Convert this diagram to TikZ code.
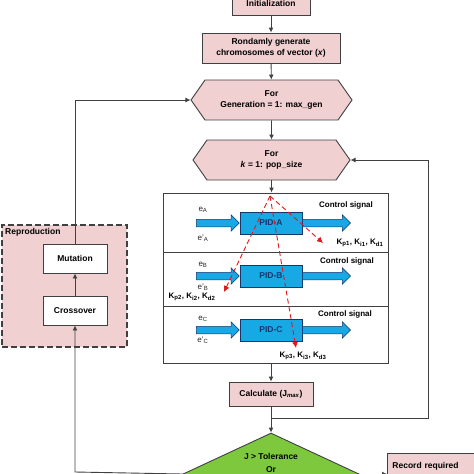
\documentclass[tikz,border=0pt]{standalone}
\usepackage{fontspec}
\setmainfont{Liberation Sans}
\usetikzlibrary{shapes.symbols,shapes.geometric,shapes.arrows,arrows.meta}
\definecolor{boxpink}{RGB}{240,208,208}
\definecolor{boxedge}{RGB}{64,64,64}
\definecolor{pidblue}{RGB}{24,168,228}
\definecolor{pidedge}{RGB}{20,55,110}
\definecolor{condgreen}{RGB}{125,200,60}
\definecolor{gainred}{RGB}{225,25,25}
\tikzset{
  flow/.style={
    line width=0.9pt,
    draw=boxedge,
    line join=miter
  },
  flow-arrow/.style={
    flow,
    -{Latex[length=5pt,width=5pt]}
  },
  step-box/.style={
    flow,
    fill=boxpink,
    font=\fontsize{8.5}{11}\selectfont\bfseries,
    align=center,
    inner sep=0pt
  },
  loop-hex/.style={step-box, shape=signal, signal to=west and east, signal pointer angle=110, minimum height=40pt},
  white-box/.style={step-box, fill=white, minimum width=64pt, minimum height=29pt},
  panel/.style={draw=boxedge, line width=0.9pt, minimum width=225pt, inner sep=0pt},
  pid-box/.style={draw=pidedge, line width=0.6pt, fill=pidblue, text=pidedge, font=\fontsize{8.5}{10}\selectfont\bfseries, minimum width=62pt, minimum height=22pt, inner sep=0pt},
  fat-arrow/.style={single arrow, draw=pidedge, line width=0.5pt, fill=pidblue, inner sep=3.5pt, single arrow head extend=4.5pt, single arrow head indent=0pt},
  sig-text/.style={font=\fontsize{8}{9}\selectfont\bfseries, inner sep=0pt},
  err-text/.style={font=\fontsize{8}{9}\selectfont, text=black!85, inner sep=0pt},
  gain-text/.style={font=\fontsize{8}{9}\selectfont\bfseries, inner sep=0pt},
  gain-line/.style={draw=gainred, line width=0.9pt, dash pattern=on 5pt off 3pt, -{Latex[length=6pt,width=6pt]}}
}

\begin{document}
\begin{tikzpicture}[x=1pt,y=-1pt]
  \useasboundingbox (0,0) rectangle (474,474);
  % Main column
  \node[step-box, minimum width=78pt, minimum height=24pt] (init) at (271,3) {Initialization};
  \node[step-box, minimum width=138pt, minimum height=30pt] (chrom) at (271,48) {Rondamly generate\\chromosomes of vector (\textit{x})};
  \node[loop-hex, minimum width=161pt] (gen) at (271.5,100) {For\\Generation = 1: max\_gen};
  \node[loop-hex, minimum width=157pt] (pop) at (271.5,160) {For\\\textit{k} = 1: pop\_size};
  \draw[flow-arrow] (init) -- (chrom);
  \draw[flow-arrow] (chrom) -- (gen);
  \draw[flow-arrow] (gen) -- (pop);
  % PID panels
  \node[panel, minimum height=59pt] (panelA) at (275.5,222.5) {};
  \node[panel, minimum height=54pt] (panelB) at (275.5,279) {};
  \node[panel, minimum height=57pt] (panelC) at (275.5,334.5) {};
  \draw[flow-arrow] (pop.south) -- (pop.south |- panelA.north);
  \node[pid-box] (pidA) at (271,223) {PID-A};
  \node[pid-box] (pidB) at (271,276) {PID-B};
  \node[pid-box] (pidC) at (271,330) {PID-C};
  \node[fat-arrow, minimum height=43pt, anchor=east] (inA) at (pidA.west) {};
  \node[fat-arrow, minimum height=43pt, anchor=east] (inB) at (pidB.west) {};
  \node[fat-arrow, minimum height=43pt, anchor=east] (inC) at (pidC.west) {};
  \node[fat-arrow, minimum height=48pt, anchor=west] (outA) at (pidA.east) {};
  \node[fat-arrow, minimum height=48pt, anchor=west] (outB) at (pidB.east) {};
  \node[fat-arrow, minimum height=48pt, anchor=west] (outC) at (pidC.east) {};
  \node[err-text] (eA) at (203,210) {e\textsubscript{A}};
  \node[err-text] (edA) at (203,238) {e'\textsubscript{A}};
  \node[err-text] (eB) at (203,265) {e\textsubscript{B}};
  \node[err-text] (edB) at (203,287) {e'\textsubscript{B}};
  \node[err-text] (eC) at (203,319) {e\textsubscript{C}};
  \node[err-text] (edC) at (203,340) {e'\textsubscript{C}};
  \node[sig-text] (sigA) at (346,205) {Control signal};
  \node[sig-text] (sigB) at (347,261) {Control signal};
  \node[sig-text] (sigC) at (345,314) {Control signal};
  \node[gain-text] (gainA) at (360,243) {K\textsubscript{p1}, K\textsubscript{i1}, K\textsubscript{d1}};
  \node[gain-text] (gainB) at (192,297) {K\textsubscript{p2}, K\textsubscript{i2}, K\textsubscript{d2}};
  \node[gain-text] (gainC) at (303,356) {K\textsubscript{p3}, K\textsubscript{i3}, K\textsubscript{d3}};
  % Gains sent to each controller
  \coordinate (apex) at (270,196);
  \coordinate (tipA) at (323,243);
  \coordinate (tipB) at (224,292);
  \coordinate (tipC) at (296,348);
  \draw[gain-line] (apex) -- (tipA);
  \draw[gain-line] (apex) -- (tipB);
  \draw[gain-line] (apex) -- (tipC);
  % Fitness and stopping test
  \node[step-box, minimum width=84pt, minimum height=24pt] (calc) at (271,394) {Calculate (J\textsubscript{\textit{max}})};
  \draw[flow-arrow] (panelC.south -| calc.north) -- (calc.north);
  \node[flow, shape=diamond, fill=condgreen, minimum width=176pt, minimum height=82pt, inner sep=0pt] (cond) at (271,474) {};
  \node[font=\fontsize{8.5}{12.5}\selectfont\bfseries, align=center, inner sep=0pt] (condtext) at (271,463) {J > Tolerance\\Or};
  \draw[flow-arrow] (calc) -- (cond.north);
  \node[step-box, anchor=west, text width=90pt, align=left, inner xsep=5pt, minimum height=26pt] (record) at (387,466) {Record required};
  \draw[flow-arrow] (cond.east) -- (cond.east -| record.west);
  % Inner loop back
  \coordinate (split) at (271,418);
  \coordinate (right) at (428,418);
  \draw[flow-arrow] (split) -- (right) |- (pop.east);
  % Reproduction
  \node[flow, dashed, dash pattern=on 6pt off 3pt, line width=1.2pt, fill=boxpink, minimum width=125pt, minimum height=122pt] (repro) at (64.5,286) {};
  \node[font=\fontsize{8.5}{10}\selectfont\bfseries, anchor=north west, inner sep=0pt] (reprotext) at (5,228) {Reproduction};
  \node[white-box] (mut) at (75,258.5) {Mutation};
  \node[white-box] (cross) at (75,310.5) {Crossover};
  \draw[flow-arrow] (cross) -- (mut);
  \coordinate (low) at (75,472);
  \draw[flow-arrow] (cond.west) -- (low) -- (cross.south);
  \coordinate (high) at (75,100);
  \draw[flow-arrow] (mut.north) -- (high) -- (gen.west);
\end{tikzpicture}
\end{document}
